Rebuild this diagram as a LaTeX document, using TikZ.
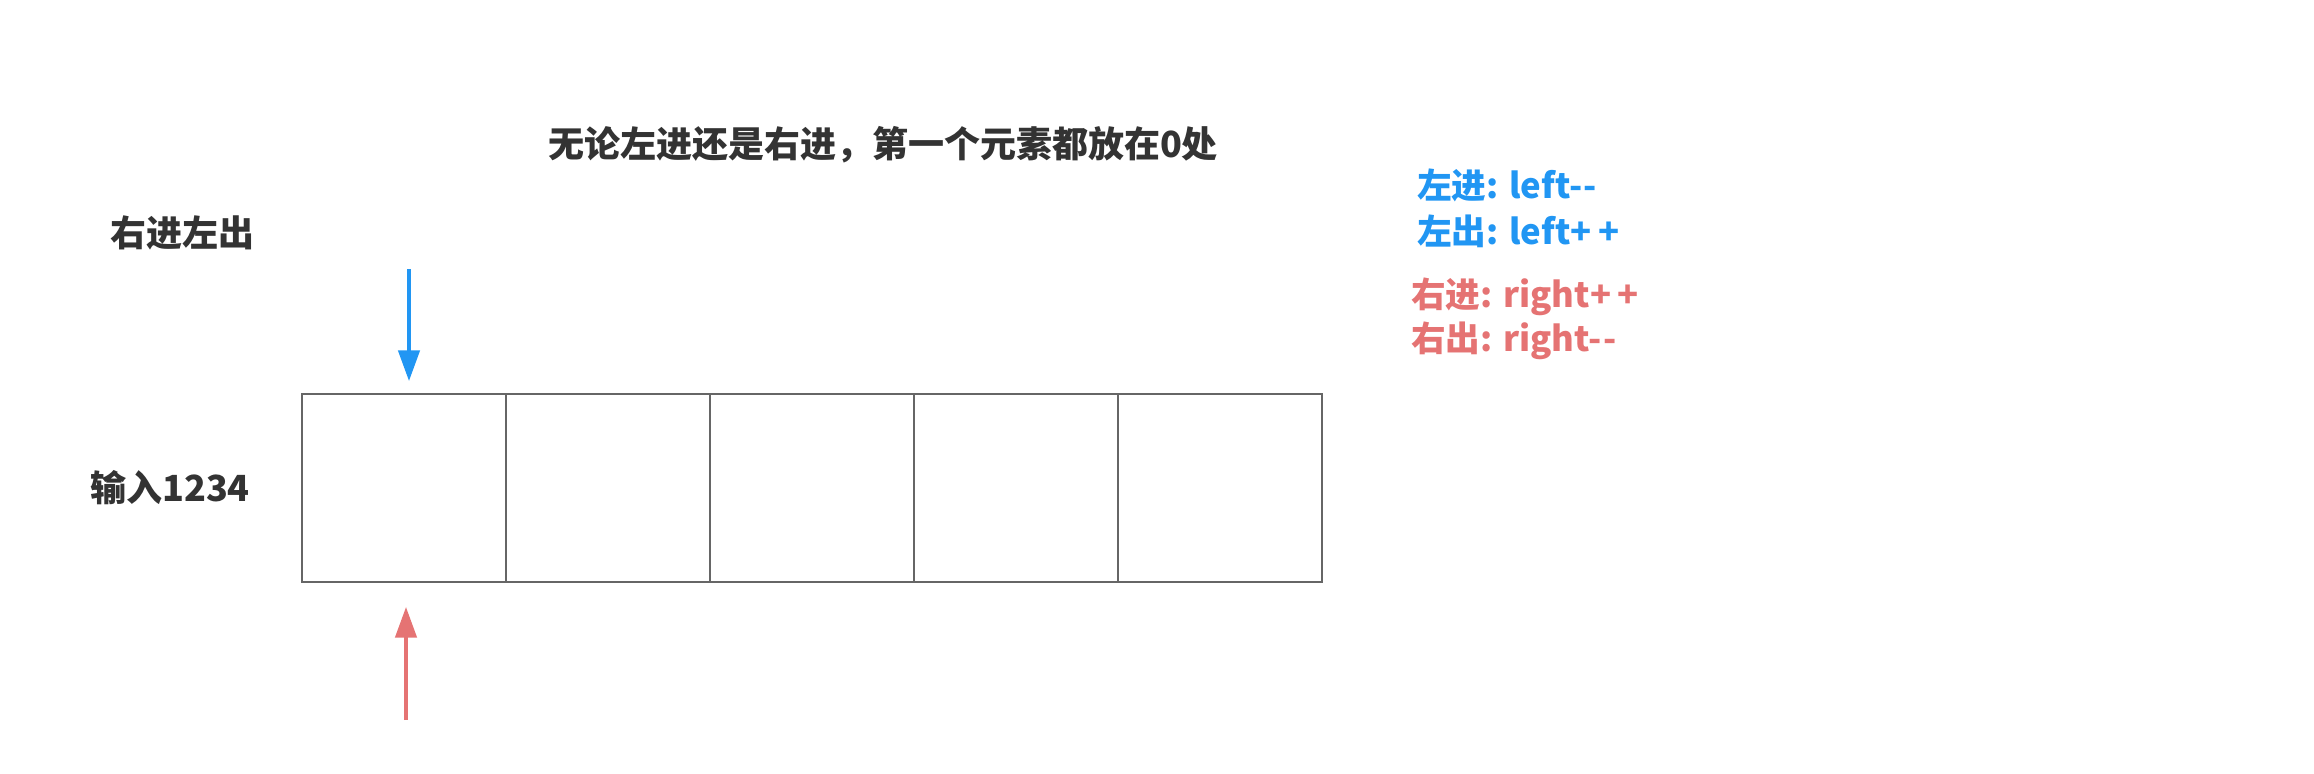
\documentclass[tikz,border=0pt]{standalone}
\usepackage{fontspec}
\setmainfont{Noto Sans CJK SC}
\usetikzlibrary{arrows.meta}
\definecolor{inblue}{HTML}{2196F3}
\definecolor{outred}{HTML}{E57373}
\definecolor{textgray}{HTML}{333333}
\definecolor{linegray}{HTML}{666666}
\newcommand{\plusplus}{+\kern5pt+}
\tikzset{
  cell/.style={draw=linegray, line width=1.5pt, minimum width=153pt, minimum height=141pt, inner sep=0pt},
  label/.style={text=textgray, font=\fontsize{27}{32}\selectfont\bfseries, inner sep=0pt},
  note/.style={font=\fontsize{26}{31}\selectfont\bfseries, inner sep=0pt, anchor=west},
  arrowline/.style={line width=2.6pt, -{Triangle[length=23pt,width=16pt]}}
}
\begin{document}
\begin{tikzpicture}[x=0.75pt,y=-0.75pt]
      \useasboundingbox (0,0) rectangle (2314,774);
      \node[label] (title) at (883,145) {无论左进还是右进，第一个元素都放在0处};
      \node[label] (mode) at (182,233) {右进左出};
      \node[label] (input) at (170,488) {输入1234};
      \node[cell] (cell0) at (404,488) {};
      \node[cell] (cell1) at (608,488) {};
      \node[cell] (cell2) at (812,488) {};
      \node[cell] (cell3) at (1016,488) {};
      \node[cell] (cell4) at (1220,488) {};
      \node[note, text=inblue] (leftin) at (1417,185) {左进: left-\kern1pt-};
      \node[note, text=inblue] (leftout) at (1417,231) {左出: left\plusplus};
      \node[note, text=outred] (rightin) at (1411,297) {右进: right\plusplus};
      \node[note, text=outred] (rightout) at (1411,341) {右出: right-\kern1pt-};
      \coordinate (lin) at (409,269);
      \coordinate (rin) at (406,720);
      \begin{scope}[arrowline]
        \draw[inblue, shorten >=9pt] (lin) to (lin |- cell0.north);
        \draw[outred, shorten >=18pt] (rin) to (rin |- cell0.south);
      \end{scope}
    \end{tikzpicture}
\end{document}
